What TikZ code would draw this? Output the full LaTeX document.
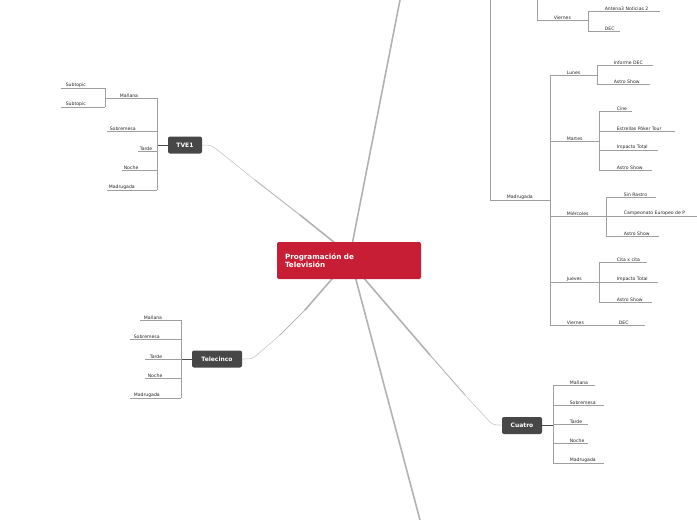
\documentclass[tikz,border=0pt]{standalone}
\usepackage{fontspec}
\setmainfont{DejaVu Sans}
\definecolor{cred}{HTML}{C81E35}
\begin{document}
\begin{tikzpicture}[x=1pt,y=-1pt,
  br/.style={draw=gray!75,line width=0.5pt},
  lbl/.style={font=\fontsize{4.6}{5}\selectfont,inner sep=0.6pt,anchor=south west,text=black!85},
  topic/.style={fill=black!72,rounded corners=2pt,text=white,font=\fontsize{6}{7}\selectfont\bfseries,minimum height=17pt,inner sep=2pt},
  trunk/.style={draw=gray!60,line width=1.6pt,line cap=round},
  mid/.style={draw=gray!55,line width=1pt,line cap=round},
  twig/.style={draw=gray!50,line width=0.5pt}]
\useasboundingbox (0,0) rectangle (697,520);
\newcommand{\lb}[5]{\draw[br] (#1,#3)--(#2,#3); \node[lbl] at (#4,#3) {#5};}
% central branches
\draw[trunk] (350,255) -- (300,215);
\draw[mid] (300,215) -- (255,180);
\draw[twig] (255,180) -- (215,148) .. controls (210,145) .. (202,145);
\draw[trunk] (338,272) -- (305,310);
\draw[mid] (305,310) -- (280,335);
\draw[twig] (280,335) -- (258,354) .. controls (252,359) .. (242,359);
\draw[trunk] (362,276) -- (430,355);
\draw[mid] (430,355) -- (465,395);
\draw[twig] (465,395) -- (490,422) .. controls (494,425) .. (502,425);
\draw[trunk] (352,245) -- (400,0);
\draw[trunk] (355,276) -- (420,520);
% center
\node[fill=cred,rounded corners=2pt,minimum width=144pt,minimum height=37pt,text width=128pt,align=left,text=white,font=\fontsize{7.2}{8}\selectfont\bfseries] (c) at (349,260.5) {Programación de\\Televisión};
% TVE1
\node[topic,minimum width=34pt] (t1) at (185,145) {TVE1};
\draw[br,draw=black!70] (t1.west) -- (157,145);
\draw[br] (157,98) -- (157,190);
\lb{105}{157}{98}{119}{Mañana}
\lb{107}{157}{131}{109}{Sobremesa}
\lb{138}{157}{151}{139}{Tarde}
\lb{122}{157}{170}{123}{Noche}
\lb{107}{157}{190}{108}{Madrugada}
\draw[br] (105,88) -- (105,107);
\lb{61}{105}{88}{65}{Subtopic}
\lb{61}{105}{107}{65}{Subtopic}
% Telecinco
\node[topic,minimum width=50pt] (t5) at (217,359) {Telecinco};
\draw[br,draw=black!70] (t5.west) -- (181,359);
\draw[br] (181,320) -- (181,398);
\lb{140}{181}{320}{143}{Mañana}
\lb{130}{181}{339}{133}{Sobremesa}
\lb{145}{181}{359}{149}{Tarde}
\lb{145}{181}{378}{147}{Noche}
\lb{130}{181}{398}{133}{Madrugada}
% Cuatro
\node[topic,minimum width=40pt] (cu) at (522,425.5) {Cuatro};
\draw[br,draw=black!70] (cu.east) -- (553,425.5);
\draw[br] (553,385) -- (553,463);
\lb{553}{595}{385}{569}{Mañana}
\lb{553}{604}{405}{569}{Sobremesa}
\lb{553}{588}{424}{569}{Tarde}
\lb{553}{588}{443}{569}{Noche}
\lb{553}{604}{463}{569}{Madrugada}
% top right
\draw[br] (490,0) -- (490,200);
\lb{490}{550}{200}{506}{Madrugada}
\draw[br] (550,75) -- (550,325);
\lb{550}{597}{75}{566}{Lunes}
\draw[br] (597,65) -- (597,84);
\lb{597}{653}{65}{613}{Informe DEC}
\lb{597}{650}{84}{613}{Astro Show}
\lb{550}{599}{141}{566}{Martes}
\draw[br] (599,111) -- (599,170);
\lb{599}{632}{111}{616}{Cine}
\lb{599}{675}{131}{616}{Estrellas Póker Tour}
\lb{599}{658}{150}{616}{Impacto Total}
\lb{599}{652}{170}{616}{Astro Show}
\lb{550}{606}{216}{566}{Miércoles}
\draw[br] (606,197) -- (606,236);
\lb{606}{656}{197}{623}{Sin Rastro}
\lb{606}{697}{216}{623}{Campeonato Europeo de P}
\lb{606}{659}{236}{623}{Astro Show}
\lb{550}{599}{282}{566}{Jueves}
\draw[br] (599,262) -- (599,302);
\lb{599}{647}{262}{616}{Cita x cita}
\lb{599}{658}{282}{616}{Impacto Total}
\lb{599}{652}{302}{616}{Astro Show}
\lb{550}{645}{325}{566}{Viernes}
\node[lbl] at (618,325) {DEC};
\draw[br] (537,0) -- (537,20);
\lb{537}{588}{20}{553}{Viernes}
\draw[br] (588,11) -- (588,31);
\lb{588}{660}{11}{604}{Antena3 Noticias 2}
\lb{588}{620}{31}{604}{DEC}
\end{tikzpicture}
\end{document}
